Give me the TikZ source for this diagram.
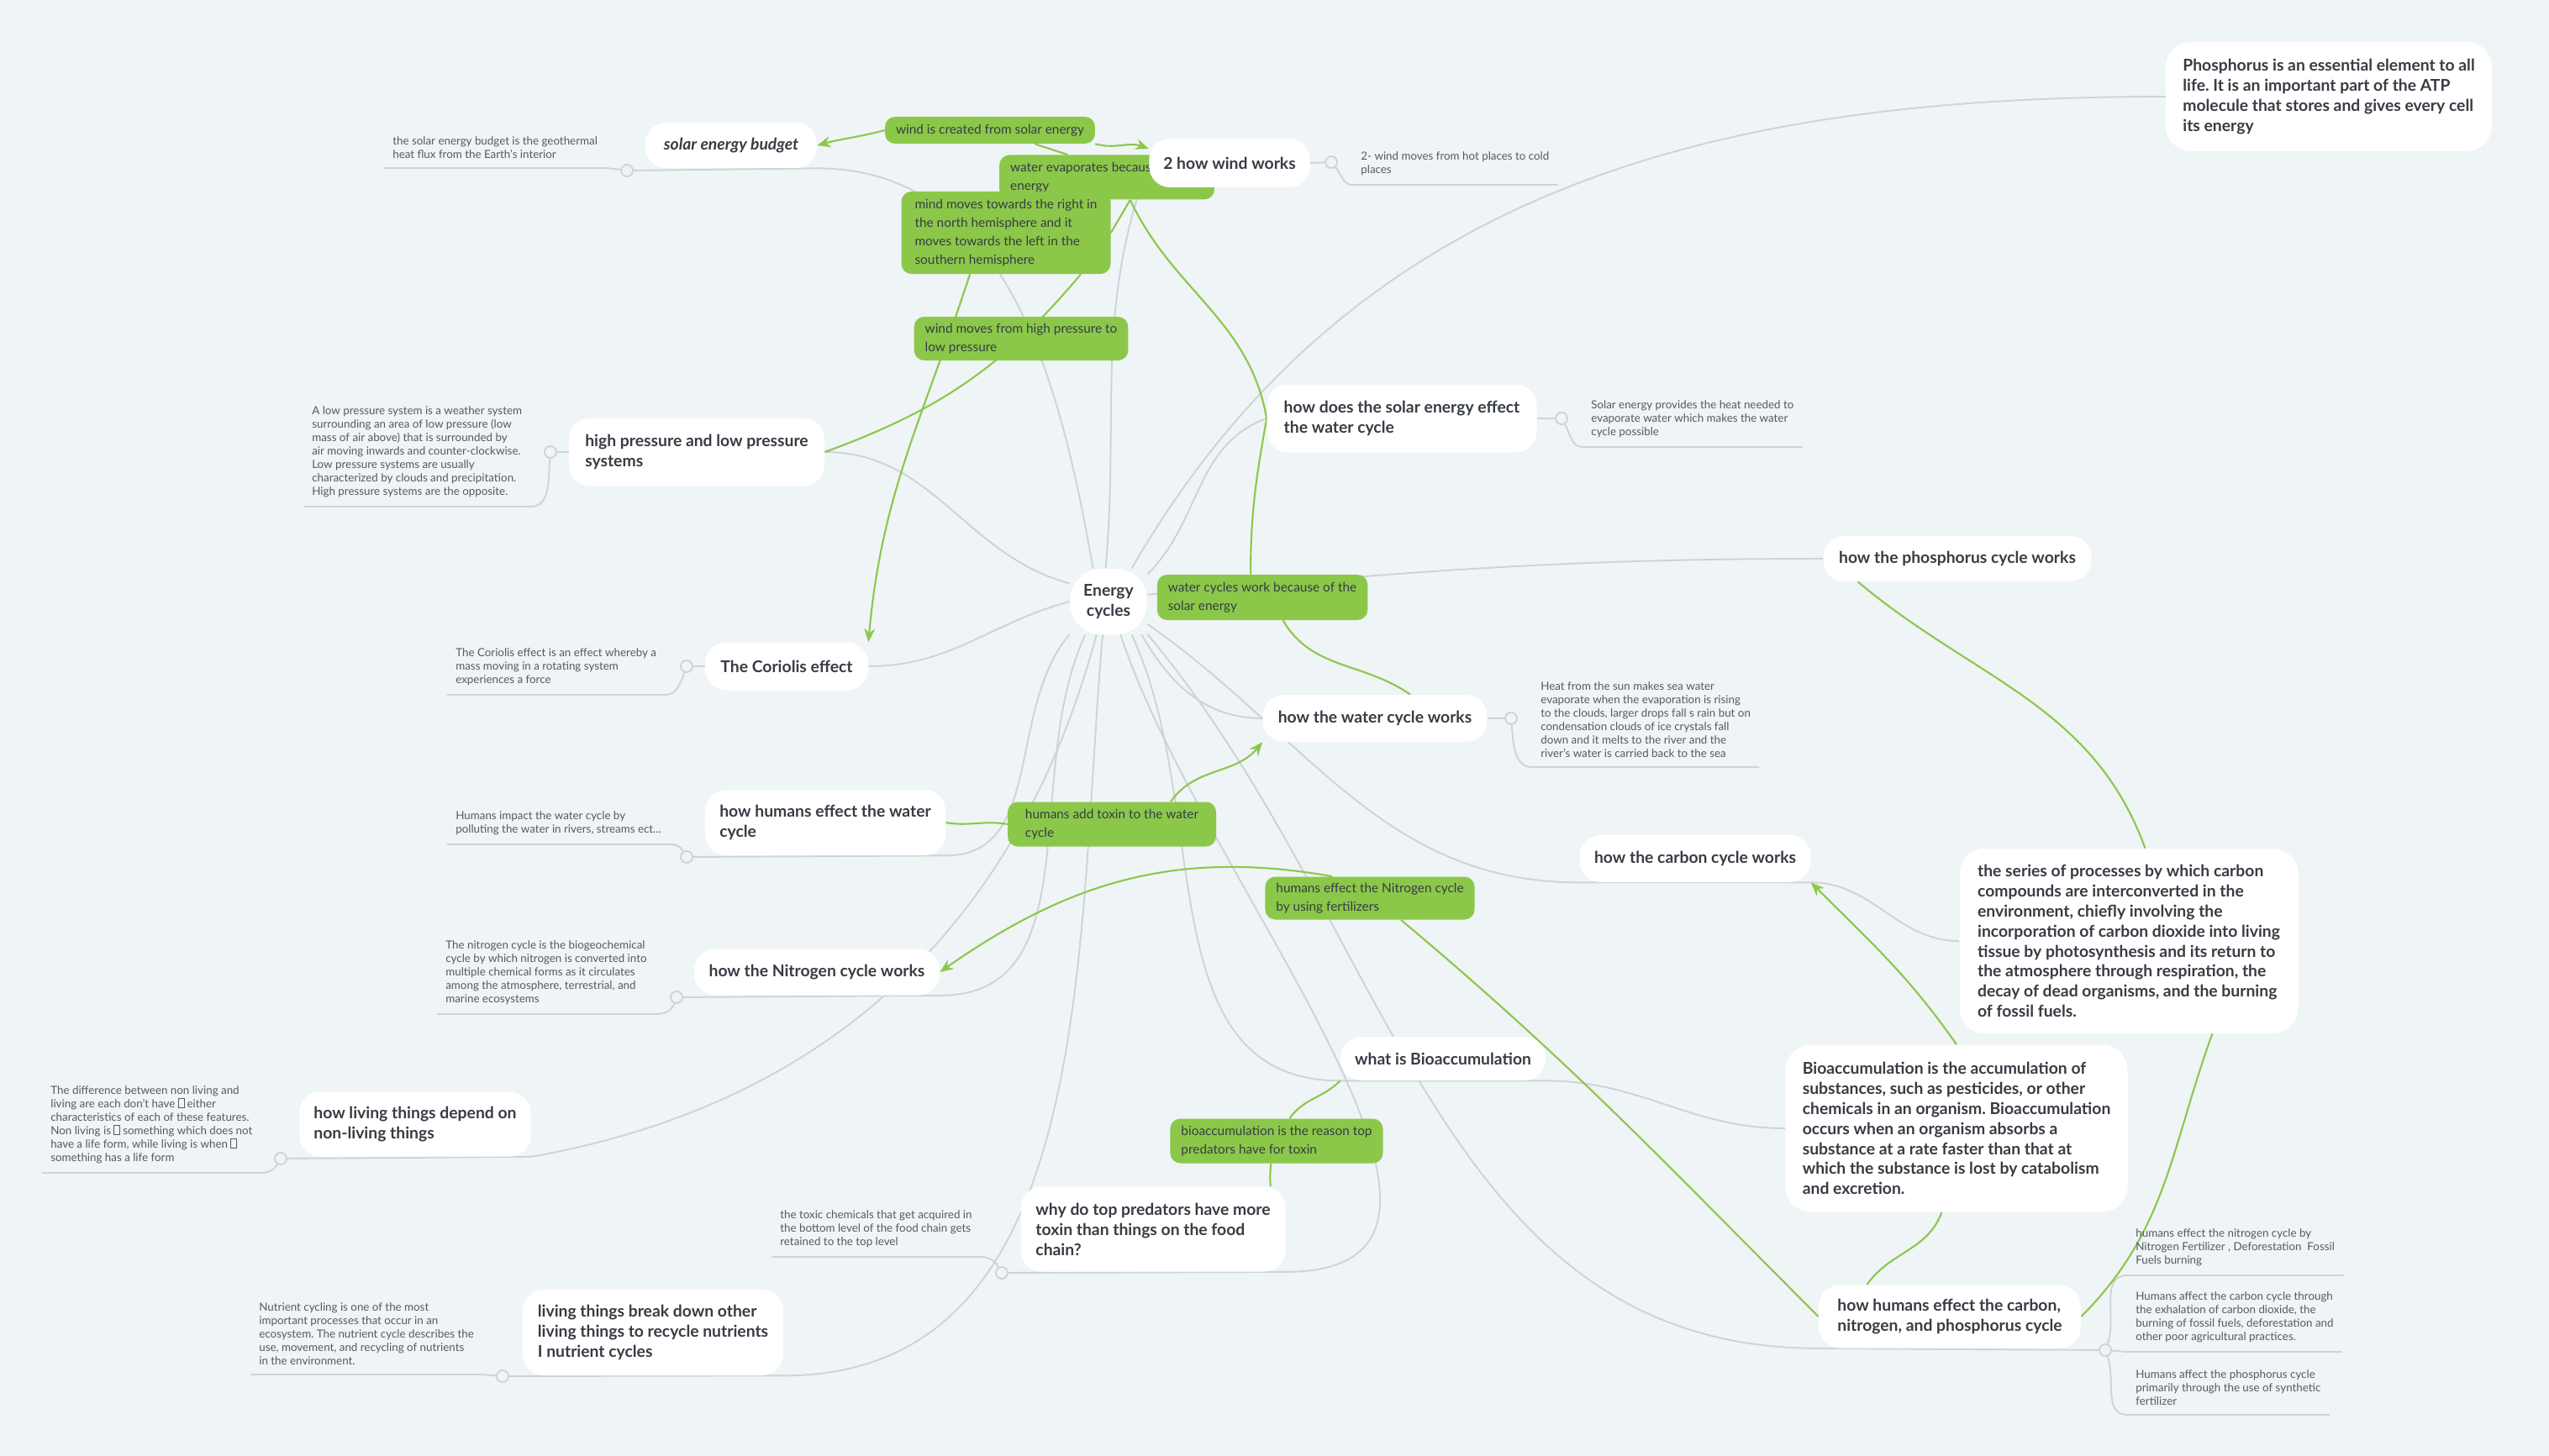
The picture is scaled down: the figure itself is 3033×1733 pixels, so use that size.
\documentclass[tikz,border=0pt]{standalone}
\usepackage{fontspec}
\setmainfont{Lato}
\frenchspacing
\usetikzlibrary{arrows.meta, backgrounds}
\definecolor{canvas}{RGB}{239,244,247}
\definecolor{leaf}{RGB}{139,200,74}
\definecolor{ink}{RGB}{55,60,68}
\definecolor{notegray}{RGB}{85,90,96}
\definecolor{wire}{RGB}{206,211,215}
\newcommand{\topictext}{\fontsize{11}{13.6}\selectfont\bfseries}
\newcommand{\labeltext}{\fontsize{8.75}{12.5}\selectfont}
\newcommand{\notetext}{\fontsize{7.6}{9.1}\selectfont}
\newcommand{\missingglyph}{{\setlength{\fboxsep}{0pt}\setlength{\fboxrule}{0.4pt}\fbox{\rule{0pt}{1.6ex}\hspace{0.9ex}}}}
\tikzset{
  % Central topic
  core/.style={
    rectangle, rounded corners=0.75cm,
    minimum width=1.84cm, minimum height=1.56cm,
    fill=white, text=ink, font=\topictext, align=center, inner sep=0pt
  },
  % Main topic (white pill)
  topic/.style={
    rectangle, rounded corners=0.5cm,
    fill=white, text=ink, font=\topictext, align=left,
    inner xsep=0.34cm, inner ysep=0pt
  },
  % Relationship label (green box)
  relbox/.style={
    rectangle, rounded corners=0.24cm,
    fill=leaf, text=ink, font=\labeltext, align=left,
    inner xsep=0.26cm, inner ysep=0pt
  },
  % Note text sitting on its underline
  note/.style={
    anchor=south west, text=notegray, font=\notetext, align=left,
    inner xsep=0.2cm, inner ysep=0.22cm
  },
  % Collapse circle
  knob/.style={
    circle, draw=wire, fill=canvas, line width=1.1pt,
    minimum size=0.28cm, inner sep=0pt
  },
  % Branch line
  link/.style={draw=wire, line width=1.1pt},
  % Relationship line
  rel/.style={draw=leaf, line width=1.2pt},
  relarr/.style={rel, -{Stealth[length=0.32cm,width=0.26cm]}},
}

\begin{document}
\begin{tikzpicture}[x=0.2mm, y=-0.2mm]

\begin{scope}[on background layer]
  \fill[canvas] (0,0) rectangle (3033,1733);
\end{scope}
\useasboundingbox (0,0) rectangle (3033,1733);

%% ── CENTRE ───────────────────────────────────────────────────────────────

\node[core] (ec) at (1319,716) {Energy\\cycles};

%% ── RELATIONSHIP LABELS ──────────────────────────────────────────────────

\node[relbox, minimum width=4.82cm, minimum height=0.64cm] (windlbl) at (1178,155)
  {wind is created from solar energy};
\node[relbox, minimum width=4.98cm, minimum height=1.06cm] (evaplbl) at (1317,211)
  {water evaporates because of solar\\energy};
\node[relbox, minimum width=4.98cm, minimum height=1.96cm] (mindlbl) at (1197,277)
  {mind moves towards the right in\\the north hemisphere and it\\moves towards the left in the\\southern hemisphere};
\node[relbox, minimum width=4.96cm, minimum height=1.04cm] (pressurelbl) at (1215,403)
  {wind moves from high pressure to\\low pressure};
\node[relbox, minimum width=5.0cm, minimum height=1.08cm] (wclbl) at (1502,711)
  {water cycles work because of the\\solar energy};
\node[relbox, minimum width=4.96cm, minimum height=1.06cm] (toxinlbl) at (1323,981)
  {humans add toxin to the water\\cycle};
\node[relbox, minimum width=4.94cm, minimum height=1.02cm] (fertlbl) at (1630,1069)
  {humans effect the Nitrogen cycle\\by using fertilizers};
\node[relbox, minimum width=5.0cm, minimum height=1.06cm] (biolbl) at (1519,1358)
  {bioaccumulation is the reason top\\predators have for toxin};

%% ── TOPICS ───────────────────────────────────────────────────────────────

\node[topic, minimum width=4.08cm, minimum height=1.08cm] (sbud) at (870,173)
  {\itshape solar energy budget};
\node[topic, minimum width=3.78cm, minimum height=1.16cm] (howwind) at (1463,194)
  {2 how wind works};
\node[topic, minimum width=6.42cm, minimum height=1.62cm] (howsolar) at (1668,498)
  {how does the solar energy effect\\the water cycle};
\node[topic, minimum width=6.08cm, minimum height=1.62cm] (high) at (829,538)
  {high pressure and low pressure\\systems};
\node[topic, minimum width=3.88cm, minimum height=1.14cm] (cor) at (936,793)
  {The Coriolis effect};
\node[topic, minimum width=6.38cm, minimum height=1.08cm] (howphos) at (2329,665)
  {how the phosphorus cycle works};
\node[topic, minimum width=5.34cm, minimum height=1.12cm] (howwater) at (1636,855)
  {how the water cycle works};
\node[topic, minimum width=5.72cm, minimum height=1.56cm] (hwater) at (982,979)
  {how humans effect the water\\cycle};
\node[topic, minimum width=5.5cm, minimum height=1.12cm] (howcarbon) at (2017,1022)
  {how the carbon cycle works};
\node[topic, minimum width=5.84cm, minimum height=1.1cm] (nitro) at (972,1157)
  {how the Nitrogen cycle works};
\node[topic, minimum width=5.5cm, minimum height=1.54cm] (living) at (494,1338)
  {how living things depend on\\non-living things};
\node[topic, minimum width=4.8cm, minimum height=1.04cm] (whatbio) at (1717,1260)
  {what is Bioaccumulation};
\node[topic, minimum width=6.3cm, minimum height=2.02cm] (why) at (1372,1463)
  {why do top predators have more\\toxin than things on the food\\chain?};
\node[topic, minimum width=6.2cm, minimum height=2.04cm] (brk) at (777,1586)
  {living things break down other\\living things to recycle nutrients\\I nutrient cycles};
\node[topic, minimum width=6.24cm, minimum height=1.5cm] (cnp) at (2320,1567)
  {how humans effect the carbon,\\nitrogen, and phosphorus cycle};
\node[topic, rounded corners=0.6cm, minimum width=7.76cm, minimum height=2.6cm] (phosdesc) at (2771,115)
  {Phosphorus is an essential element to all\\life. It is an important part of the ATP\\molecule that stores and gives every cell\\its energy};
\node[topic, rounded corners=0.6cm, minimum width=8.06cm, minimum height=4.4cm] (carbondesc) at (2533,1120)
  {the series of processes by which carbon\\compounds are interconverted in the\\environment, chiefly involving the\\incorporation of carbon dioxide into living\\tissue by photosynthesis and its return to\\the atmosphere through respiration, the\\decay of dead organisms, and the burning\\of fossil fuels.};
\node[topic, rounded corners=0.6cm, minimum width=8.14cm, minimum height=3.98cm] (biodesc) at (2328,1343)
  {Bioaccumulation is the accumulation of\\substances, such as pesticides, or other\\chemicals in an organism. Bioaccumulation\\occurs when an organism absorbs a\\substance at a rate faster than that at\\which the substance is lost by catabolism\\and excretion.};

%% ── KNOBS ────────────────────────────────────────────────────────────────

\node[knob] (sbudk)  at (746,203)  {};
\node[knob] (windk)  at (1584,193) {};
\node[knob] (solark) at (1858,498) {};
\node[knob] (highk)  at (655,538)  {};
\node[knob] (cork)   at (817,793)  {};
\node[knob] (hwk)    at (817,1020) {};
\node[knob] (nitk)   at (805,1187) {};
\node[knob] (livk)   at (334,1379) {};
\node[knob] (waterk) at (1798,855) {};
\node[knob] (whyk)   at (1192,1515) {};
\node[knob] (brkk)   at (598,1638) {};
\node[knob] (cnpk)   at (2505,1607) {};

%% ── NOTES ────────────────────────────────────────────────────────────────

\node[note] (nsbud) at (457,200)
  {the solar energy budget is the geothermal\\heat flux from the Earth's interior};
\node[note] (nwind) at (1609,220)
  {2- wind moves from hot places to cold\\places};
\node[note] (nsolar) at (1883,532)
  {Solar energy provides the heat needed to\\evaporate water which makes the water\\cycle possible};
\node[note] (nhigh) at (361,603)
  {A low pressure system is a weather system\\surrounding an area of low pressure (low\\mass of air above) that is surrounded by\\air moving inwards and counter-clockwise.\\Low pressure systems are usually\\characterized by clouds and precipitation.\\High pressure systems are the opposite.};
\node[note] (ncor) at (532,827)
  {The Coriolis effect is an effect whereby a\\mass moving in a rotating system\\experiences a force};
\node[note] (nhw) at (532,1005)
  {Humans impact the water cycle by\\polluting the water in rivers, streams ect...};
\node[note] (nnit) at (520,1207)
  {The nitrogen cycle is the biogeochemical\\cycle by which nitrogen is converted into\\multiple chemical forms as it circulates\\among the atmosphere, terrestrial, and\\marine ecosystems};
\node[note] (nliv) at (50,1396)
  {The difference between non living and\\living are each don't have \missingglyph\ either\\characteristics of each of these features.\\Non living is \missingglyph\ something which does not\\have a life form, while living is when \missingglyph\\something has a life form};
\node[note] (nwater) at (1823,913)
  {Heat from the sun makes sea water\\evaporate when the evaporation is rising\\to the clouds, larger drops fall s rain but on\\condensation clouds of ice crystals fall\\down and it melts to the river and the\\river's water is carried back to the sea};
\node[note] (nwhy) at (918,1496)
  {the toxic chemicals that get acquired in\\the bottom level of the food chain gets\\retained to the top level};
\node[note] (nbrk) at (298,1636)
  {Nutrient cycling is one of the most\\important processes that occur in an\\ecosystem. The nutrient cycle describes the\\use, movement, and recycling of nutrients\\in the environment.};
\node[note] (ncnpa) at (2531,1518)
  {humans effect the nitrogen cycle by\\Nitrogen Fertilizer , Deforestation\ \ Fossil\\Fuels burning};
\node[note] (ncnpb) at (2531,1609)
  {Humans affect the carbon cycle through\\the exhalation of carbon dioxide, the\\burning of fossil fuels, deforestation and\\other poor agricultural practices.};
\node[note] (ncnpc) at (2531,1684)
  {Humans affect the phosphorus cycle\\primarily through the use of synthetic\\fertilizer};

%% ── CONNECTORS (behind the boxes) ────────────────────────────────────────

\begin{scope}[on background layer]

% branches from the centre
\draw[link] (ec.115) to[out=100,in=0] (sbud.south east) -- (sbudk);
\draw[link] (ec.95) to[out=85,in=250] (howwind.west);
\draw[link] (ec.55) to[out=60,in=180] (phosdesc.west);
\draw[link] (ec.35) to[out=45,in=200] (howsolar.west);
\draw[link] (ec.10) to[out=5,in=180] (howphos.west);
\draw[link] (ec.-45) to[out=-60,in=180] (howwater.west);
\draw[link] (ec.-30) to[out=-35,in=180] (howcarbon.south west) -- (howcarbon.south east)
  to[out=0,in=180] (carbondesc.west);
\draw[link] (ec.-55) to[out=-65,in=180] (whatbio.south west) -- (whatbio.south east)
  to[out=0,in=180] (biodesc.west);
\draw[link] (ec.-40) to[out=-50,in=180] (cnp.south west) -- (cnpk);
\draw[link] (ec.-70) to[out=-72,in=0] (why.south east) -- (whyk);
\draw[link] (ec.-100) to[out=-95,in=0] (brk.south east) -- (brkk);
\draw[link] (ec.-110) to[out=-105,in=10] (living.south east) -- (livk);
\draw[link] (ec.-125) to[out=-115,in=0] (nitro.south east) -- (nitk);
\draw[link] (ec.-140) to[out=-130,in=0] (hwater.south east) -- (hwk);
\draw[link] (ec.west) to[out=195,in=0] (cor.east);
\draw[link] (ec.155) to[out=165,in=0] (high.east);

% stubs to the knobs
\draw[link] (cor.west) -- (cork);
\draw[link] (high.west) -- (highk);
\draw[link] (howwind.east) -- (windk);
\draw[link] (howsolar.east) -- (solark);
\draw[link] (howwater.east) -- (waterk);

% knobs to notes
\draw[link] (sbudk) -- (nsbud.south east) -- (nsbud.south west);
\draw[link] (windk) to[out=-50,in=180] (nwind.south west) -- (nwind.south east);
\draw[link] (solark) to[out=-60,in=180] (nsolar.south west) -- (nsolar.south east);
\draw[link] (waterk) to[out=-85,in=180] (nwater.south west) -- (nwater.south east);
\draw[link] (highk) to[out=-95,in=0] (nhigh.south east) -- (nhigh.south west);
\draw[link] (cork) to[out=-110,in=0] (ncor.south east) -- (ncor.south west);
\draw[link] (hwk) to[out=120,in=0] (nhw.south east) -- (nhw.south west);
\draw[link] (nitk) to[out=-110,in=0] (nnit.south east) -- (nnit.south west);
\draw[link] (livk) to[out=-120,in=0] (nliv.south east) -- (nliv.south west);
\draw[link] (whyk) to[out=120,in=0] (nwhy.south east) -- (nwhy.south west);
\draw[link] (brkk) -- (nbrk.south east) -- (nbrk.south west);
\draw[link] (cnpk) to[out=70,in=180] (ncnpa.south west) -- (ncnpa.south east);
\draw[link] (cnpk) -- (ncnpb.south west) -- (ncnpb.south east);
\draw[link] (cnpk) to[out=-70,in=180] (ncnpc.south west) -- (ncnpc.south east);

% relationships (green)
\draw[relarr] (windlbl.west) to[out=195,in=15] (sbud.east);
\draw[relarr] (windlbl.south east) to[out=-15,in=160] (howwind.170);
\draw[rel] (windlbl.-17) -- (evaplbl.150);
\draw[rel] (evaplbl.-44) to[out=-65,in=100] (howsolar.west);
\draw[rel] (howsolar.west) to[out=-100,in=90] (wclbl.117);
\draw[rel] (wclbl.-48) to[out=-60,in=145] (howwater.34);
\draw[rel] (evaplbl.-44) -- (mindlbl.east);
\draw[relarr] (mindlbl.-131) to[out=-108,in=85] (cor.north east);
\draw[rel] (mindlbl.-29) to[out=-130,in=20] (high.east);
\draw[rel] (hwater.east) to[out=-10,in=170] (toxinlbl.west);
\draw[relarr] (toxinlbl.21) to[out=55,in=-130] (howwater.south west);
\draw[relarr] (fertlbl.150) to[out=170,in=35] (nitro.east);
\draw[rel] (fertlbl.-35) to[out=-40,in=135] (cnp.west);
\draw[rel] (biolbl.60) to[out=55,in=-135] (whatbio.south west);
\draw[rel] (biolbl.-104) to[out=-95,in=95] (why.20);
\draw[rel] (howphos.-167) to[out=-40,in=110] (carbondesc.80);
\draw[rel] (carbondesc.-48) to[out=-110,in=45] (cnp.east);
\draw[rel] (cnp.159) to[out=55,in=-110] (biodesc.-100);
\draw[relarr] (biodesc.90) to[out=125,in=-45] (howcarbon.south east);

\end{scope}

\end{tikzpicture}
\end{document}
